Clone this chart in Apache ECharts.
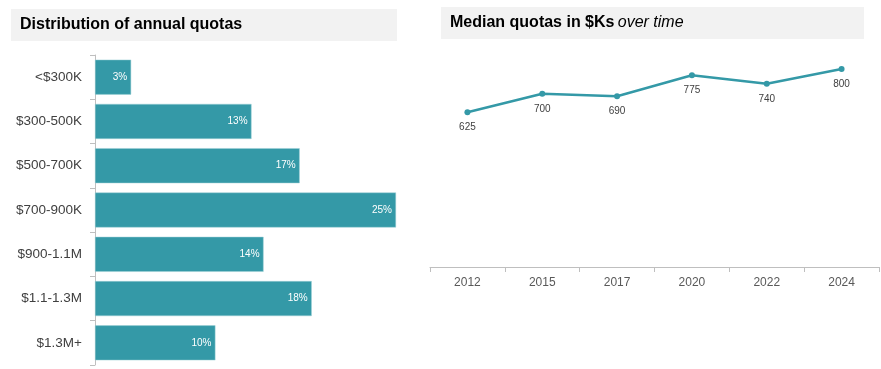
<!DOCTYPE html>
<html><head><meta charset="utf-8">
<script src="https://cdn.jsdelivr.net/npm/echarts@6/dist/echarts.min.js"></script>
<style>html,body{margin:0;padding:0;background:#fff}#c{width:881px;height:369px}</style>
</head><body><div id="c"></div>
<script>
const quotaCategories = ['<$300K','$300-500K','$500-700K','$700-900K','$900-1.1M','$1.1-1.3M','$1.3M+'];
const quotaShares = [3,13,17,25,14,18,10];
const years = ['2012','2015','2017','2020','2022','2024'];
const medianQuotas = [625,700,690,775,740,800];

const teal = '#3499A7';
const font = '"Liberation Sans", Arial, sans-serif';
const chart = echarts.init(document.getElementById('c'), null, {renderer:'canvas'});
chart.setOption({
  animation:false,
  textStyle:{fontFamily:font},
  graphic:[
    {type:'rect', shape:{x:11,y:9,width:386,height:32}, style:{fill:'#f2f2f2'}, z:-1},
    {type:'text', x:20, y:25, style:{text:'Distribution of annual quotas', font:'bold 16px '+font, fill:'#000', verticalAlign:'middle'}},
    {type:'rect', shape:{x:441,y:7,width:423,height:32}, style:{fill:'#f2f2f2'}, z:-1},
    {type:'text', x:450, y:23, style:{text:'{b|Median quotas in $Ks} {i|over time}', verticalAlign:'middle',
      rich:{b:{font:'bold 16px '+font, fill:'#000'}, i:{font:'italic 16px '+font, fill:'#000'}}}}
  ],
  grid:[
    {left:95, top:55, width:301, height:310},
    {left:430, top:69, width:449, height:198}
  ],
  xAxis:[
    {gridIndex:0, type:'value', min:0, max:25, show:false},
    {gridIndex:1, type:'category', data:years, boundaryGap:true,
      axisLine:{lineStyle:{color:'#bfbfbf'}}, axisTick:{show:true, length:5, lineStyle:{color:'#bfbfbf'}},
      axisLabel:{color:'#595959', fontSize:12, margin:10}}
  ],
  yAxis:[
    {gridIndex:0, type:'category', data:quotaCategories, inverse:true,
      axisLine:{lineStyle:{color:'#bfbfbf'}}, axisTick:{show:true, length:5, lineStyle:{color:'#bfbfbf'}},
      axisLabel:{color:'#404040', fontSize:13.5, margin:13}},
    {gridIndex:1, type:'value', min:0, max:800, show:false}
  ],
  series:[
    {type:'bar', xAxisIndex:0, yAxisIndex:0, data:quotaShares, barWidth:35,
      itemStyle:{color:teal, borderColor:'#9fd0d6', borderWidth:0.5},
      label:{show:true, position:'insideRight', distance:4, color:'#fff', fontSize:10, formatter:p=>p.value+'%'}},
    {type:'line', xAxisIndex:1, yAxisIndex:1, data:medianQuotas, symbol:'circle', symbolSize:6,
      lineStyle:{color:teal, width:2.5}, itemStyle:{color:teal},
      label:{show:true, position:'bottom', distance:7, color:'#404040', fontSize:10}}
  ]
});
</script></body></html>
